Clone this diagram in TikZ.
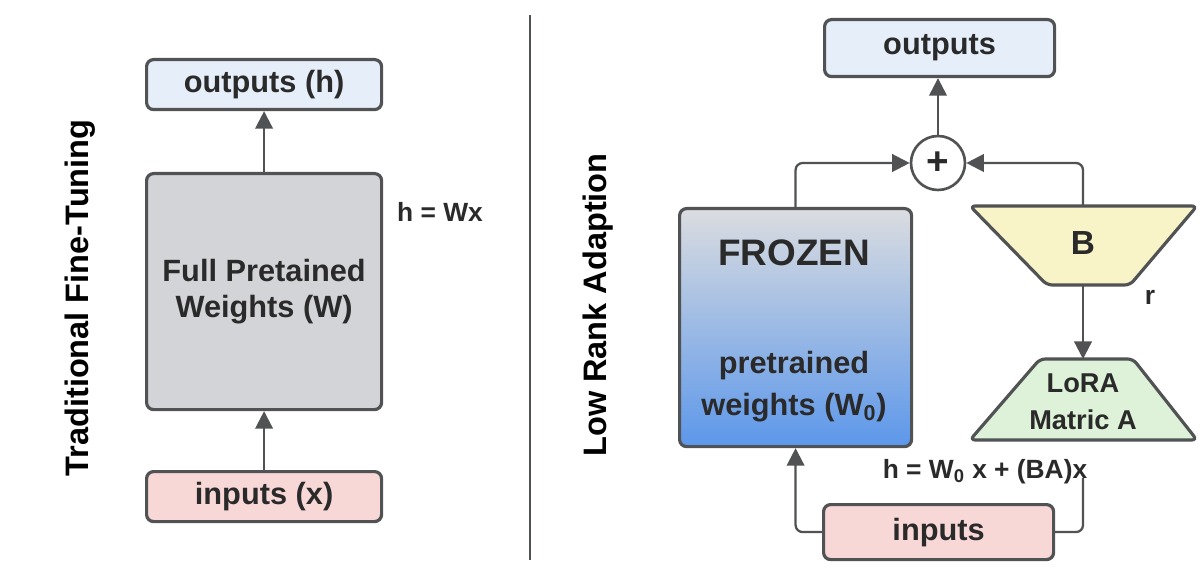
\documentclass[tikz,border=0pt]{standalone}
\usepackage{fontspec}
\setmainfont{Liberation Sans}
\usetikzlibrary{arrows.meta}
\definecolor{bord}{HTML}{505254}
\definecolor{ltblue}{HTML}{E6EEF9}
\definecolor{gbox}{HTML}{D2D4D8}
\definecolor{pinkb}{HTML}{F8D7D7}
\definecolor{yelb}{HTML}{F8F4C8}
\definecolor{grnb}{HTML}{DDF2D8}
\definecolor{frzb}{HTML}{5C97EA}
\definecolor{txt}{HTML}{2A2A2A}
\begin{document}
\begin{tikzpicture}[x=0.02cm,y=-0.02cm,
  box/.style={draw=bord,line width=1.8pt,rounded corners=4pt,inner sep=0pt,anchor=north west,text=txt,font=\bfseries\fontsize{17.5}{21}\selectfont,align=center},
  conn/.style={draw=bord,line width=1.3pt},
  arr/.style={conn,-{Triangle[length=10pt,width=10pt]}},
  lbl/.style={text=txt,font=\bfseries\fontsize{15}{18}\selectfont}]
\useasboundingbox (0,0) rectangle (1200,574);
\fill[white] (0,0) rectangle (1200,574);
% left
\node[box,fill=ltblue,minimum width=235*0.02cm,minimum height=50*0.02cm] (out1) at (145,58) {outputs (h)};
\node[box,fill=gbox,minimum width=235*0.02cm,minimum height=236*0.02cm] (full) at (145,172) {Full Pretained\\Weights (W)};
\node[box,fill=pinkb,minimum width=235*0.02cm,minimum height=50*0.02cm] (in1) at (145,470) {inputs (x)};
\draw[arr] (in1) -- (full);
\draw[arr] (full) -- (out1);
\node[lbl] (eq1) at (440,212) {h = Wx};
\node[rotate=90,text=black,font=\bfseries\fontsize{18.5}{22}\selectfont] (t1) at (80,298) {Traditional Fine-Tuning};
\draw[bord,line width=1.3pt] (530,15) -- (530,560);
% right
\node[rotate=90,text=black,font=\bfseries\fontsize{18.5}{22}\selectfont] (t2) at (598,305) {Low Rank Adaption};
\node[box,fill=ltblue,minimum width=230*0.02cm,minimum height=57*0.02cm] (out2) at (823,18) {outputs};
\node[draw=bord,line width=1.5pt,circle,fill=white,minimum size=54*0.02cm,inner sep=0pt,font=\bfseries\fontsize{22}{22}\selectfont,text=txt] (plus) at (938,163) {+};
\node[box,top color=gbox!80!white,bottom color=frzb,minimum width=232*0.02cm,minimum height=238*0.02cm] (frz) at (678,207) {};
\node[text=txt,font=\bfseries\fontsize{21}{24}\selectfont] (frzt) at (794,253) {FROZEN};
\node[text=txt,font=\bfseries\fontsize{17.5}{24}\selectfont,align=center] (frzp) at (794,387) {pretrained\\weights (W\textsubscript{0})};
\node[box,fill=pinkb,minimum width=230*0.02cm,minimum height=55*0.02cm] (in2) at (822,503) {inputs};
% B trapezoid
\coordinate (btop) at (1083,206);
\coordinate (bbot) at (1083,285);
\draw[bord,line width=1.8pt,fill=yelb,rounded corners=3pt] (970,206) -- (1197,206) -- (1130,285) -- (1047,285) -- cycle;
\node[text=txt,font=\bfseries\fontsize{19}{22}\selectfont] (bl) at (1083,243) {B};
\node[lbl] (r) at (1150,297) {r};
% A trapezoid
\coordinate (atop) at (1083,359);
\draw[bord,line width=1.8pt,fill=grnb,rounded corners=3pt] (1040,359) -- (1133,359) -- (1197,440) -- (970,440) -- cycle;
\node[text=txt,font=\bfseries\fontsize{15.5}{21}\selectfont,align=center] (al) at (1083,402) {LoRA\\Matric A};
% connectors
\draw[arr] (bbot) -- (atop);
\draw[arr,rounded corners=4pt] (frz.north) |- (plus.west);
\draw[arr,rounded corners=4pt] (btop) |- (plus.east);
\draw[arr] (plus.north) -- (plus.north |- out2.south);
\draw[arr,rounded corners=4pt] (in2.west) -| (frz.south);
\coordinate (rend) at (1083,478);
\draw[conn,rounded corners=4pt] (in2.east) -| (rend);
\node[lbl] (eq2) at (985,472) {h = W\textsubscript{0} x + (BA)x};
\end{tikzpicture}
\end{document}
